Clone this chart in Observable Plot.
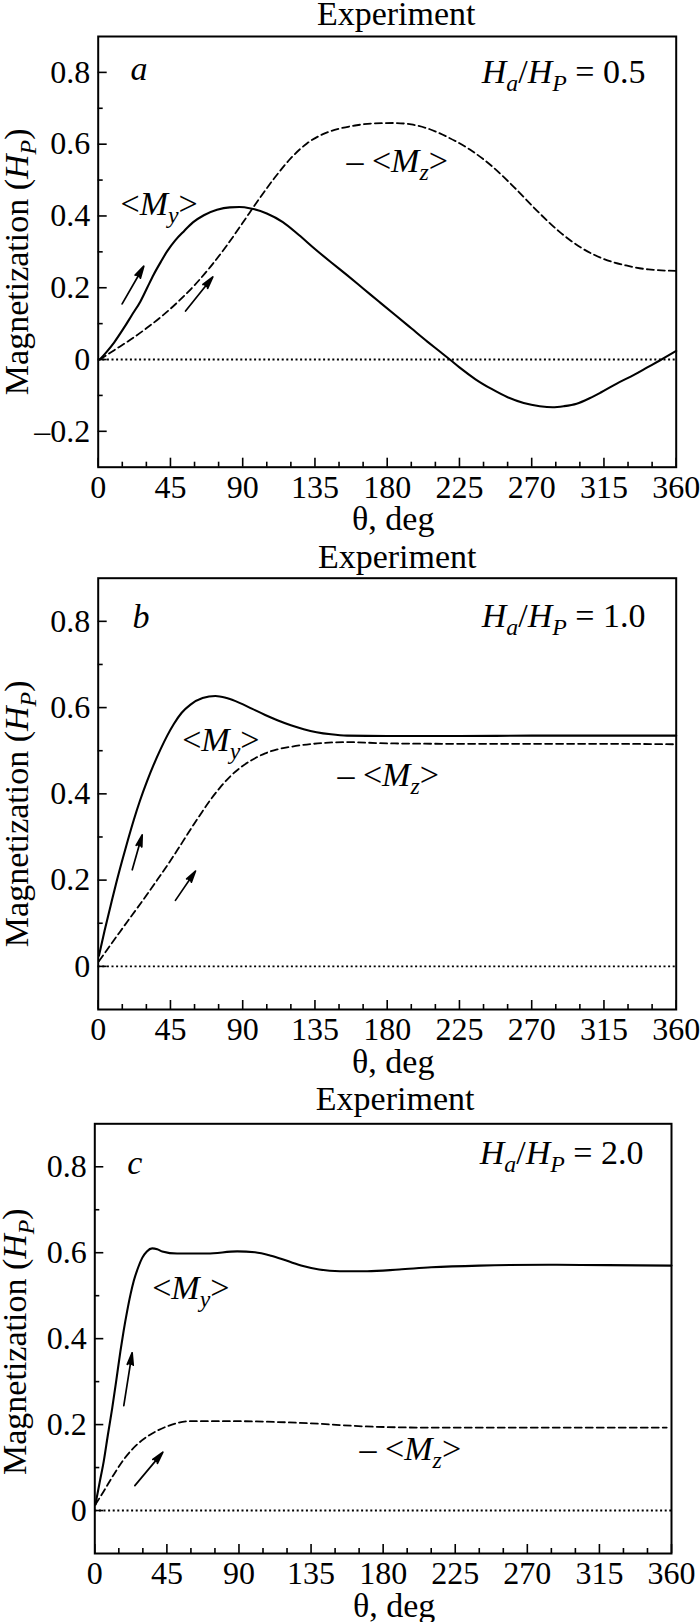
<!DOCTYPE html>
<html>
<head>
<meta charset="utf-8">
<script src="https://cdn.jsdelivr.net/npm/d3@7"></script>
<script src="https://cdn.jsdelivr.net/npm/@observablehq/plot@0.6"></script>
<style>
  html, body { margin: 0; padding: 0; background: #fff; }
  svg { display: block; }
</style>
</head>
<body>
<div id="chart"></div>
<script>
// ---------- tick values ----------
const xMajorTicks = [0, 45, 90, 135, 180, 225, 270, 315, 360];
const xMinorTicks = [15, 30, 60, 75, 105, 120, 150, 165, 195, 210, 240, 255, 285, 300, 330, 345];
const yMajorTicksA = [-0.2, 0, 0.2, 0.4, 0.6, 0.8];
const yMinorTicksA = [-0.1, 0.1, 0.3, 0.5, 0.7];
const yMajorTicksBC = [0, 0.2, 0.4, 0.6, 0.8];
const yMinorTicksBC = [0.1, 0.3, 0.5, 0.7];

// ---------- panel a: Ha/HP = 0.5 ----------
const thetaA_My = [1, 5, 10, 16, 21, 26.3, 30.5, 34.6, 39, 43, 48, 53.3, 59, 65.8, 74, 82, 88, 95, 105, 115, 125, 135, 145, 155, 165, 175, 185, 195, 205, 212, 219, 225, 235, 245, 255, 265, 275, 283, 290, 298, 306, 313, 323, 334, 342, 350, 360];
const valueA_My = [0, 0.02, 0.048, 0.088, 0.124, 0.162, 0.2, 0.237, 0.272, 0.302, 0.332, 0.357, 0.382, 0.402, 0.417, 0.424, 0.425, 0.421, 0.407, 0.383, 0.347, 0.308, 0.271, 0.235, 0.198, 0.161, 0.124, 0.087, 0.05, 0.025, 0, -0.022, -0.055, -0.082, -0.105, -0.121, -0.13, -0.133, -0.13, -0.123, -0.108, -0.092, -0.067, -0.042, -0.022, -0.002, 0.024];
const thetaA_Mz = [1, 10, 20, 30, 40, 50, 60, 70, 80, 90, 100, 110, 120, 130, 140, 150, 160, 172, 184, 195, 205, 217.5, 231.5, 245.4, 259.3, 273.2, 287, 301, 315, 328.8, 342.7, 360];
const valueA_Mz = [0, 0.026, 0.055, 0.087, 0.122, 0.162, 0.207, 0.259, 0.317, 0.381, 0.446, 0.507, 0.561, 0.602, 0.628, 0.643, 0.652, 0.658, 0.659, 0.655, 0.644, 0.62, 0.585, 0.538, 0.479, 0.415, 0.357, 0.311, 0.28, 0.262, 0.251, 0.247];

// ---------- panel b: Ha/HP = 1.0 ----------
const thetaB_My = [0.5, 4, 7.7, 11, 14.9, 18.5, 22.2, 26, 30.5, 34.5, 38.8, 43, 47.1, 52, 57.5, 65, 73, 80, 88, 96, 104, 112, 120, 128, 136, 145, 155, 180, 225, 270, 315, 360];
const valueB_My = [0.025, 0.083, 0.14, 0.19, 0.245, 0.293, 0.34, 0.384, 0.43, 0.467, 0.503, 0.535, 0.562, 0.588, 0.607, 0.622, 0.627, 0.622, 0.611, 0.597, 0.583, 0.57, 0.559, 0.55, 0.543, 0.538, 0.535, 0.534, 0.534, 0.535, 0.535, 0.535];
const thetaB_Mz = [0.5, 6, 11.8, 18, 24.3, 30.5, 36.7, 43, 49.2, 54.5, 59.5, 64.5, 69.9, 76, 82.4, 89, 96.9, 104, 111.5, 119.8, 134, 155, 180, 225, 270, 315, 358];
const valueB_Mz = [0.012, 0.041, 0.071, 0.103, 0.135, 0.167, 0.2, 0.234, 0.269, 0.3, 0.329, 0.357, 0.386, 0.415, 0.441, 0.462, 0.481, 0.494, 0.503, 0.509, 0.516, 0.52, 0.517, 0.516, 0.516, 0.516, 0.515];

// ---------- panel c: Ha/HP = 2.0 ----------
const thetaC_My = [0.4, 3, 5.6, 8.2, 10.9, 13.5, 16, 18, 20.2, 22.3, 24.3, 27, 29.6, 32.5, 35.8, 39, 42.1, 51.4, 70.2, 88.9, 100, 110, 120, 130, 140, 153, 170, 190, 210, 240, 283, 320, 360];
const valueC_My = [0.014, 0.065, 0.115, 0.177, 0.239, 0.305, 0.371, 0.418, 0.464, 0.503, 0.534, 0.565, 0.588, 0.603, 0.61, 0.608, 0.603, 0.598, 0.598, 0.603, 0.601, 0.593, 0.581, 0.569, 0.561, 0.557, 0.557, 0.561, 0.566, 0.57, 0.572, 0.571, 0.57];
const thetaC_Mz = [0.4, 5.6, 11.9, 18.1, 26.5, 34.8, 45.2, 59.7, 84.7, 113.9, 134, 174, 210, 260, 310, 357];
const valueC_Mz = [0.014, 0.045, 0.084, 0.119, 0.154, 0.177, 0.196, 0.208, 0.208, 0.206, 0.203, 0.195, 0.193, 0.193, 0.193, 0.193];

// ---------- annotations (data coordinates) ----------
const arrowsA = [{x1: 14.9, y1: 0.155, x2: 28.4, y2: 0.26}, {x1: 54.4, y1: 0.135, x2: 71.4, y2: 0.23}];
const arrowsB = [{x1: 21.2, y1: 0.224, x2: 27.4, y2: 0.305}, {x1: 48.1, y1: 0.153, x2: 60.6, y2: 0.221}];
const arrowsC = [{x1: 18.1, y1: 0.244, x2: 23.3, y2: 0.367}, {x1: 25, y1: 0.058, x2: 42.5, y2: 0.136}];
const curveLabelsA = [{text: "<My>", x: 13.9, y: 0.404}, {text: "– <Mz>", x: 154.6, y: 0.523}];
const curveLabelsB = [{text: "<My>", x: 52.3, y: 0.5}, {text: "– <Mz>", x: 149, y: 0.419}];
const curveLabelsC = [{text: "<My>", x: 35.8, y: 0.493}, {text: "– <Mz>", x: 165.3, y: 0.118}];

const titleText = "Experiment";
const xLabelText = "θ, deg";
const yLabelText = "Magnetization (HP)";

// rich-text segments: flags i = italic, s = subscript
const RICH = {
  "Magnetization (HP)": [["Magnetization (", ""], ["H", "i"], ["P", "is"], [")", ""]],
  "Ha/HP = 0.5": [["H", "i"], ["a", "is"], ["/", ""], ["H", "i"], ["P", "is"], [" = 0.5", ""]],
  "Ha/HP = 1.0": [["H", "i"], ["a", "is"], ["/", ""], ["H", "i"], ["P", "is"], [" = 1.0", ""]],
  "Ha/HP = 2.0": [["H", "i"], ["a", "is"], ["/", ""], ["H", "i"], ["P", "is"], [" = 2.0", ""]],
  "<My>": [["<", ""], ["M", "i"], ["y", "is"], [">", ""]],
  "– <Mz>": [["– <", ""], ["M", "i"], ["z", "is"], [">", ""]]
};

const zip = (t, v) => t.map((d, i) => ({theta: d, value: v[i]}));
const yFmt = d => d === 0 ? "0" : (d < 0 ? "–" : "") + Math.abs(d).toFixed(1);

function richify(svg) {
  d3.select(svg).selectAll("text").each(function () {
    const segs = RICH[this.textContent];
    if (!segs) return;
    const sel = d3.select(this);
    sel.text(null).style("white-space", "pre");
    let shift = 0;
    for (const [t, f] of segs) {
      const ts = sel.append("tspan").text(t);
      const target = f.includes("s") ? 8 : 0;
      if (target !== shift) { ts.attr("dy", target - shift); shift = target; }
      if (f.includes("i")) ts.attr("font-style", "italic");
      if (f.includes("s")) ts.attr("font-size", "70%");
    }
  });
  // filled arrow heads
  d3.select(svg).selectAll("g[aria-label='arrow'] path").attr("fill", "black");
}

const panels = [
  {height: 540, mt: 36, mb: 73.3, ml: 97.7, mr: 24.3, yDomain: [-0.3, 0.9],
   yMajor: yMajorTicksA, yMinor: yMinorTicksA,
   my: zip(thetaA_My, valueA_My), mz: zip(thetaA_Mz, valueA_Mz),
   arrows: arrowsA, labels: curveLabelsA, letter: "a", ratio: "Ha/HP = 0.5",
   titleDx: 9, titleDy: -12, letterDx: 32.3, letterDy: 43.3, ratioDx: -30.7, ratioDy: 46.8,
   yLabDx: -70, yLabDy: 10, xLabDx: 6},
  {height: 540, mt: 37.7, mb: 71, ml: 97.7, mr: 24.3, yDomain: [-0.1, 0.9],
   yMajor: yMajorTicksBC, yMinor: yMinorTicksBC,
   my: zip(thetaB_My, valueB_My), mz: zip(thetaB_Mz, valueB_Mz),
   arrows: arrowsB, labels: curveLabelsB, letter: "b", ratio: "Ha/HP = 1.0",
   titleDx: 10, titleDy: -10, letterDx: 34.3, letterDy: 49.3, ratioDx: -30.7, ratioDy: 48.3,
   yLabDx: -70, yLabDy: 20, xLabDx: 6},
  {height: 542, mt: 43.3, mb: 69, ml: 94.3, mr: 29, yDomain: [-0.1, 0.9],
   yMajor: yMajorTicksBC, yMinor: yMinorTicksBC,
   my: zip(thetaC_My, valueC_My), mz: zip(thetaC_Mz, valueC_Mz),
   arrows: arrowsC, labels: curveLabelsC, letter: "c", ratio: "Ha/HP = 2.0",
   titleDx: 12, titleDy: -14, letterDx: 32.4, letterDy: 50, ratioDx: -28, ratioDy: 39.7,
   yLabDx: -68.5, yLabDy: 3, xLabDx: 11}
];

const chart = document.getElementById("chart");
for (const p of panels) {
  const svg = Plot.plot({
    width: 700,
    height: p.height,
    marginTop: p.mt, marginBottom: p.mb, marginLeft: p.ml, marginRight: p.mr,
    x: {domain: [0, 360]},
    y: {domain: p.yDomain},
    style: {fontFamily: "'Liberation Serif', 'Times New Roman', serif", color: "black", background: "white", overflow: "visible"},
    marks: [
      Plot.ruleY([0], {strokeDasharray: "2,2.6", strokeWidth: 1.9}),
      Plot.line(p.my, {x: "theta", y: "value", strokeWidth: 2.1, curve: "monotone-x"}),
      Plot.line(p.mz, {x: "theta", y: "value", strokeWidth: 1.8, strokeDasharray: "7,4", curve: "monotone-x"}),
      Plot.arrow(p.arrows, {x1: "x1", y1: "y1", x2: "x2", y2: "y2", strokeWidth: 1.7, headLength: 11, headAngle: 28}),
      Plot.axisX({ticks: xMajorTicks, tickSize: -9, fill: "none", label: null, strokeWidth: 1.6}),
      Plot.axisX({ticks: xMinorTicks, tickSize: -5, fill: "none", label: null, strokeWidth: 1.6}),
      Plot.axisX({ticks: xMajorTicks, tickSize: 0, tickPadding: 8, fontSize: 32, label: null, tickFormat: d => String(d)}),
      Plot.axisY({ticks: p.yMajor, tickSize: -9, fill: "none", label: null, strokeWidth: 1.6}),
      Plot.axisY({ticks: p.yMinor, tickSize: -5, fill: "none", label: null, strokeWidth: 1.6}),
      Plot.axisY({ticks: p.yMajor, tickSize: 0, tickPadding: 8, fontSize: 32, label: null, tickFormat: yFmt}),
      Plot.frame({strokeWidth: 2}),
      Plot.text([titleText], {text: d => d, frameAnchor: "top", textAnchor: "middle", dx: p.titleDx, dy: p.titleDy, lineAnchor: "bottom", fontSize: 34}),
      Plot.text([xLabelText], {text: d => d, frameAnchor: "bottom", textAnchor: "middle", dx: p.xLabDx, dy: 63, lineAnchor: "bottom", fontSize: 34}),
      Plot.text([yLabelText], {text: d => d, frameAnchor: "left", textAnchor: "middle", rotate: -90, dx: p.yLabDx, dy: p.yLabDy, lineAnchor: "bottom", fontSize: 34}),
      Plot.text([p.letter], {text: d => d, frameAnchor: "top-left", textAnchor: "start", dx: p.letterDx, dy: p.letterDy, lineAnchor: "bottom", fontSize: 34, fontStyle: "italic"}),
      Plot.text([p.ratio], {text: d => d, frameAnchor: "top-right", textAnchor: "end", dx: p.ratioDx, dy: p.ratioDy, lineAnchor: "bottom", fontSize: 34}),
      Plot.text(p.labels, {x: "x", y: "y", text: "text", textAnchor: "start", lineAnchor: "bottom", fontSize: 34})
    ]
  });
  richify(svg);
  chart.appendChild(svg);
}
</script>
</body>
</html>
